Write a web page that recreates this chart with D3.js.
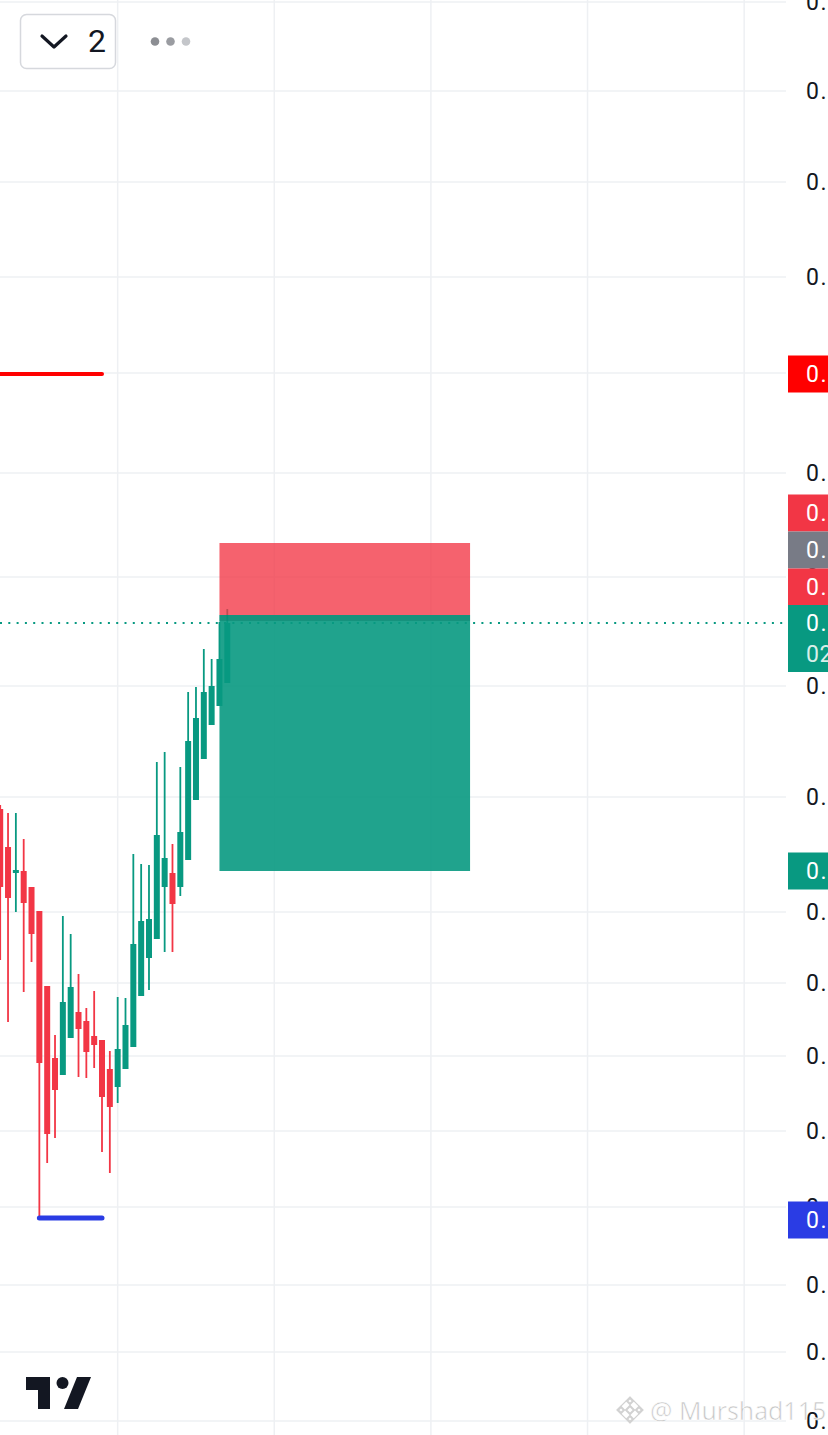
<!DOCTYPE html>
<html><head><meta charset="utf-8">
<script src="https://cdn.jsdelivr.net/npm/d3@7/dist/d3.min.js"></script>
<style>html,body{margin:0;padding:0;background:#fff;overflow:hidden}svg{display:block}</style>
</head><body>
<script>
// ---- data ----
const candleIndex = d3.range(30);
const opens  = [0.02382,0.02306,0.02254,0.02258,0.02226,0.02178,0.02028,0.01884,0.01850,0.01924,0.01976,0.01958,0.01928,0.01920,0.01862,0.01826,0.01862,0.01906,0.02008,0.02084,0.02122,0.02226,0.02254,0.02226,0.02280,0.02400,0.02482,0.02550,0.02588,0.02634];
const highs  = [0.02390,0.02374,0.02374,0.02322,0.02226,0.02178,0.02028,0.01930,0.02168,0.02132,0.02052,0.01984,0.02018,0.01920,0.01898,0.02006,0.02004,0.02292,0.02272,0.02270,0.02476,0.02496,0.02312,0.02466,0.02616,0.02626,0.02702,0.02682,0.02756,0.02782];
const lows   = [0.02080,0.01956,0.02176,0.02016,0.02076,0.01566,0.01674,0.01724,0.01850,0.01924,0.01846,0.01844,0.01864,0.01696,0.01654,0.01794,0.01862,0.01906,0.02008,0.02020,0.02122,0.02096,0.02096,0.02208,0.02280,0.02400,0.02482,0.02550,0.02588,0.02634];
const closes = [0.02226,0.02204,0.02260,0.02194,0.02132,0.01874,0.01732,0.01820,0.01996,0.02026,0.01942,0.01896,0.01910,0.01806,0.01786,0.01902,0.01950,0.02112,0.02158,0.02162,0.02330,0.02284,0.02192,0.02336,0.02518,0.02564,0.02616,0.02628,0.02682,0.02754];

const priceTicks = [0.03996,0.03818,0.03636,0.03446,0.03254,0.03054,0.02846,0.02628,0.02406,0.02176,0.02034,0.01888,0.01738,0.01586,0.01430,0.01296,0.01158];
const timeGridIndex = [15,35,55,75,95];

const levelPrices = [0.03252, 0.01564];
const levelFrom   = [-1, 5];
const levelTo     = [13, 13];
const levelColors = ["#FF0000", "#2A3CE4"];

const entryPrice = 0.02770, stopPrice = 0.02914, targetPrice = 0.02258;
const positionFrom = 28, positionTo = 60;
const lastPrice = 0.02754;
const countdown = "02:41";

const labelPrices = [0.03252, 0.02974, 0.02900, 0.02826, 0.02258, 0.01560];
const labelColors = ["#FF0000", "#F23645", "#787B86", "#F23645", "#089981", "#2A3CE4"];

// ---- setup ----
const W = 828, H = 1435, plotRight = 786;
const UP = "#089981", DOWN = "#F23645";
const svg = d3.select("body").append("svg").attr("width", W).attr("height", H);
const y = d3.scaleLinear().domain([0.0113, 0.04]).range([H, 0]);
const x = d3.scaleLinear().domain([0, 29]).range([0.2, 227.3]);
const fmt = d3.format(".5f");
const lf = "Roboto, 'Noto Sans', sans-serif";
const LS = 1.6, FS = 23;

// grid
svg.append("g").selectAll("line").data(priceTicks).join("line")
  .attr("x1", 0).attr("x2", plotRight).attr("y1", d => y(d)).attr("y2", d => y(d))
  .attr("stroke", "#EEF0F3").attr("stroke-width", 1.5);
svg.append("g").selectAll("line").data(timeGridIndex).join("line")
  .attr("x1", d => x(d)).attr("x2", d => x(d)).attr("y1", 0).attr("y2", H)
  .attr("stroke", "#EEF0F3").attr("stroke-width", 1.5);

// price axis
const axis = d3.axisRight(y).tickValues(priceTicks).tickSize(0).tickPadding(3).tickFormat(fmt);
const ag = svg.append("g").attr("transform", "translate(803,0)").call(axis);
ag.select(".domain").remove();
ag.selectAll("text").attr("font-family", lf).attr("font-size", FS)
  .attr("letter-spacing", LS).attr("fill", "#131722");

// candles
const cg = svg.append("g");
const col = i => closes[i] >= opens[i] ? UP : DOWN;
cg.selectAll("line").data(candleIndex).join("line")
  .attr("x1", i => x(i)).attr("x2", i => x(i))
  .attr("y1", i => y(highs[i])).attr("y2", i => y(lows[i]))
  .attr("stroke", col).attr("stroke-width", 1.8);
cg.selectAll("rect").data(candleIndex).join("rect")
  .attr("x", i => x(i) - 3).attr("width", 6)
  .attr("y", i => y(Math.max(opens[i], closes[i])))
  .attr("height", i => Math.max(2, Math.abs(y(opens[i]) - y(closes[i]))))
  .attr("fill", col);

// horizontal levels
svg.append("g").selectAll("line").data(levelPrices).join("line")
  .attr("x1", (d, i) => x(levelFrom[i])).attr("x2", (d, i) => x(levelTo[i]))
  .attr("y1", d => y(d)).attr("y2", d => y(d))
  .attr("stroke", (d, i) => levelColors[i]).attr("stroke-width", (d, i) => i ? 5 : 4)
  .attr("stroke-linecap", "round");

// position tool (short)
const px0 = x(positionFrom), px1 = x(positionTo);
svg.append("rect").attr("x", px0).attr("width", px1 - px0)
  .attr("y", y(stopPrice)).attr("height", y(entryPrice) - y(stopPrice))
  .attr("fill", DOWN).attr("fill-opacity", 0.78);
svg.append("rect").attr("x", px0).attr("width", px1 - px0)
  .attr("y", y(entryPrice)).attr("height", y(targetPrice) - y(entryPrice))
  .attr("fill", UP).attr("fill-opacity", 0.9);
svg.append("rect").attr("x", px0).attr("width", px1 - px0)
  .attr("y", y(entryPrice)).attr("height", 6)
  .attr("fill", "#0b7f6b").attr("fill-opacity", 0.45);

// last price dotted line
svg.append("line").attr("x1", 0).attr("x2", plotRight)
  .attr("y1", y(lastPrice)).attr("y2", y(lastPrice))
  .attr("stroke", UP).attr("stroke-width", 2).attr("stroke-dasharray", "2 6.3");

// axis labels
const lg = svg.append("g");
lg.selectAll("rect").data(labelPrices).join("rect")
  .attr("x", 788).attr("width", 45).attr("y", d => y(d) - 18.5).attr("height", 37)
  .attr("fill", (d, i) => labelColors[i]);
lg.selectAll("text").data(labelPrices).join("text")
  .attr("x", 806).attr("y", d => y(d)).attr("dy", "0.36em").attr("letter-spacing", LS)
  .attr("font-family", lf).attr("font-size", FS).attr("fill", "#fff").text(d => fmt(d));
// last price label with countdown
const ly = y(lastPrice);
svg.append("rect").attr("x", 788).attr("width", 45).attr("y", ly - 18).attr("height", 67).attr("fill", UP);
svg.append("text").attr("x", 806).attr("y", ly).attr("dy", "0.36em").attr("letter-spacing", LS)
  .attr("font-family", lf).attr("font-size", FS).attr("fill", "#fff").text(fmt(lastPrice));
svg.append("text").attr("x", 806).attr("y", ly + 31).attr("dy", "0.36em").attr("letter-spacing", 0.6)
  .attr("font-family", lf).attr("font-size", FS).attr("fill", "#d8efe9").text(countdown);

// top-left widget
svg.append("rect").attr("x", 20.5).attr("y", 14.5).attr("width", 95).attr("height", 54).attr("rx", 6)
  .attr("fill", "#fff").attr("stroke", "#D6D8DD").attr("stroke-width", 1.5);
svg.append("path").attr("d", "M42,36 L54,47 L66,36").attr("fill", "none")
  .attr("stroke", "#131722").attr("stroke-width", 3.2).attr("stroke-linecap", "round").attr("stroke-linejoin", "round");
svg.append("text").attr("x", 88).attr("y", 52).attr("font-family", lf).attr("font-size", 32).attr("fill", "#131722").text("2");
svg.selectAll("circle.dot").data(["#8C8E93", "#9A9CA1", "#C4C6CA"]).join("circle").attr("class", "dot")
  .attr("cx", (d, i) => 155 + i * 15.5).attr("cy", 41.5).attr("r", 4.3).attr("fill", d => d);

// TradingView logo
const logo = svg.append("g").attr("fill", "#131722");
logo.append("path").attr("d", "M26,1377 H50 V1409 H38 V1390 H26 Z");
logo.append("circle").attr("cx", 62.5).attr("cy", 1383).attr("r", 6);
logo.append("path").attr("d", "M77,1377 H91 L78,1409 H64 Z");

// watermark
const wm = svg.append("g").attr("fill", "none").attr("stroke", "#D2D2D2").attr("stroke-width", 2);
const cx0 = 630, cy0 = 1410;
[[0,0,4],[0,-9,3],[0,9,3],[-9,0,3],[9,0,3]].forEach(([dx, dy, r]) => {
  wm.append("path").attr("d", `M${cx0+dx},${cy0+dy-r} L${cx0+dx+r},${cy0+dy} L${cx0+dx},${cy0+dy+r} L${cx0+dx-r},${cy0+dy} Z`);
});
wm.append("path").attr("d", `M${cx0-13},${cy0} L${cx0},${cy0-13} L${cx0+13},${cy0} L${cx0},${cy0+13} Z`).attr("stroke-width", 1.2);
svg.append("text").attr("x", 650).attr("y", 1420).attr("font-family", "'Open Sans', 'Noto Sans', sans-serif")
  .attr("font-size", 25).attr("fill", "#C6C6C6").attr("stroke", "#fff").attr("stroke-width", 0.6).text("@ Murshad115");
</script>
</body></html>
